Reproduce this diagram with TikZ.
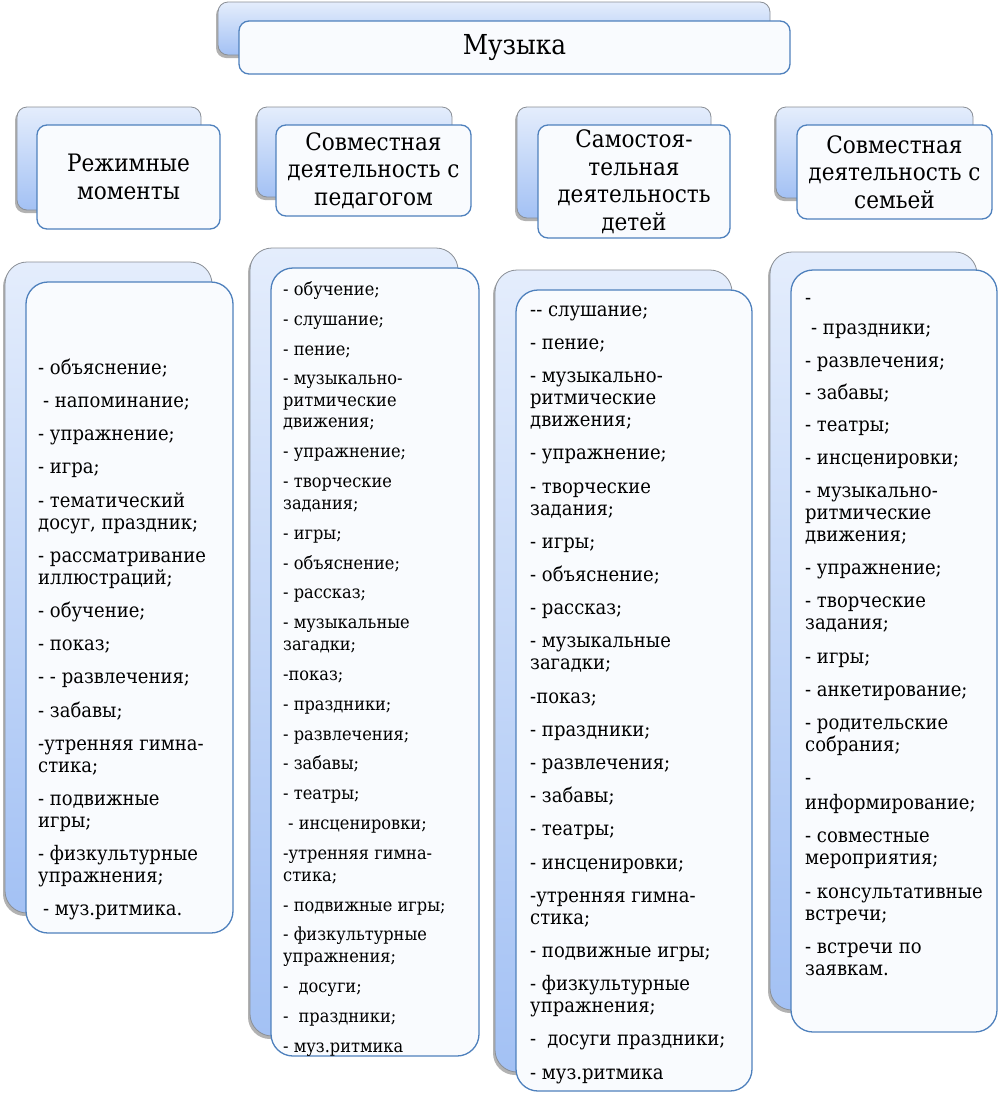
\documentclass[tikz,border=0pt]{standalone}
\usepackage{fontspec}
\setmainfont{DejaVu Serif}[FakeStretch=0.9]
\newfontfamily\lserif{DejaVu Serif}[FakeStretch=0.9]
\usetikzlibrary{shadows}
\definecolor{conncol}{HTML}{41689A}
\definecolor{backtop}{HTML}{E4EDFC}
\definecolor{backbot}{HTML}{A3C1F4}
\definecolor{backline}{HTML}{8A8F96}
\definecolor{frontfill}{HTML}{F9FBFE}
\definecolor{frontline}{HTML}{4F81BD}
\pgfdeclarelayer{bg}
\pgfsetlayers{bg,main}
\begin{document}
\begin{tikzpicture}[x=1pt,y=-1pt,
  backbox/.style={draw=backline, line width=0.8pt, top color=backtop, bottom color=backbot,
    inner sep=0pt, drop shadow={shadow xshift=-2pt, shadow yshift=-3pt, opacity=0.3, fill=black}},
  frontbox/.style={draw=frontline, line width=1.3pt, fill=frontfill, inner sep=0pt},
  hdrbox/.style={rounded corners=10pt},
  lstbox/.style={rounded corners=22pt},
  hdrtext/.style={align=center, font=\lserif\fontsize{24}{27.5}\selectfont},
  titletext/.style={font=\lserif\fontsize{27.5}{30}\selectfont},
  listA/.style={anchor=north west, inner sep=0pt, align=left, font=\lserif\fontsize{20}{22}\selectfont},
  listB/.style={anchor=north west, inner sep=0pt, align=left, font=\lserif\fontsize{18}{21.5}\selectfont},
  conn/.style={draw=conncol, line width=4pt}
]
\useasboundingbox[fill=white] (0,0) rectangle (1000,1093);

% title
\node[backbox, hdrbox, minimum width=552pt, minimum height=53pt] (tb) at (494,28.5) {};
\node[frontbox, hdrbox, minimum width=551pt, minimum height=53pt, titletext] (tf) at (514.5,47.5) {Музыка};

% headers
\node[backbox, hdrbox, minimum width=184pt, minimum height=103pt] (hb1) at (109,158.5) {};
\node[frontbox, hdrbox, minimum width=183pt, minimum height=104pt, hdrtext] (hf1) at (128.5,177) {Режимные\\моменты};
\node[backbox, hdrbox, minimum width=195pt, minimum height=90pt] (hb2) at (354.5,152) {};
\node[frontbox, hdrbox, minimum width=195pt, minimum height=91pt, hdrtext] (hf2) at (373.5,170.5) {Совместная\\деятельность с\\педагогом};
\node[backbox, hdrbox, minimum width=194pt, minimum height=111pt] (hb3) at (614,162.5) {};
\node[frontbox, hdrbox, minimum width=192pt, minimum height=113pt, hdrtext] (hf3) at (634,181.5) {Самостоя-\\тельная\\деятельность\\детей};
\node[backbox, hdrbox, minimum width=197pt, minimum height=91pt] (hb4) at (874.5,152.5) {};
\node[frontbox, hdrbox, minimum width=195pt, minimum height=94pt, hdrtext] (hf4) at (894.5,172) {Совместная\\деятельность с\\семьей};

% list boxes
\node[backbox, lstbox, minimum width=207pt, minimum height=651pt] (lb1) at (108.5,587.5) {};
\node[frontbox, lstbox, minimum width=207pt, minimum height=651pt] (lf1) at (129.5,607.5) {};
\node[backbox, lstbox, minimum width=208pt, minimum height=788pt] (lb2) at (354,642) {};
\node[frontbox, lstbox, minimum width=208pt, minimum height=788pt] (lf2) at (375,662) {};
\node[backbox, lstbox, minimum width=237pt, minimum height=802pt] (lb3) at (613.5,671) {};
\node[frontbox, lstbox, minimum width=236pt, minimum height=801pt] (lf3) at (634,690.5) {};
\node[backbox, lstbox, minimum width=207pt, minimum height=758pt] (lb4) at (873.5,631) {};
\node[frontbox, lstbox, minimum width=206pt, minimum height=762pt] (lf4) at (894,651) {};

% list texts
\node[listA] (t1) at (38,357) {\rule{0pt}{17pt}- объяснение;\\[11.2pt]
\hspace{5pt}- напоминание;\\[11.2pt]
- упражнение;\\[11.2pt]
- игра;\\[11.2pt]
- тематический\\
досуг, праздник;\\[11.2pt]
- рассматривание\\
иллюстраций;\\[11.2pt]
- обучение;\\[11.2pt]
- показ;\\[11.2pt]
- - развлечения;\\[11.2pt]
- забавы;\\[11.2pt]
-утренняя гимна-\\
стика;\\[11.2pt]
- подвижные\\
игры;\\[11.2pt]
- физкультурные\\
упражнения;\\[11.2pt]
\hspace{5pt}- муз.ритмика.};

\node[listB] (t2) at (283,279.5) {\rule{0pt}{15.5pt}- обучение;\\[8.4pt]
- слушание;\\[8.4pt]
- пение;\\[8.4pt]
- музыкально-\\
ритмические\\
движения;\\[8.4pt]
- упражнение;\\[8.4pt]
- творческие\\
задания;\\[8.4pt]
- игры;\\[8.4pt]
- объяснение;\\[8.4pt]
- рассказ;\\[8.4pt]
- музыкальные\\
загадки;\\[8.4pt]
-показ;\\[8.4pt]
- праздники;\\[8.4pt]
- развлечения;\\[8.4pt]
- забавы;\\[8.4pt]
- театры;\\[8.4pt]
\hspace{5pt}- инсценировки;\\[8.4pt]
-утренняя гимна-\\
стика;\\[8.4pt]
- подвижные игры;\\[8.4pt]
- физкультурные\\
упражнения;\\[8.4pt]
-\hspace{10pt}досуги;\\[8.4pt]
-\hspace{10pt}праздники;\\[8.4pt]
- муз.ритмика};

\node[listA] (t3) at (530,299) {\rule{0pt}{17pt}-{}- слушание;\\[11.2pt]
- пение;\\[11.2pt]
- музыкально-\\
ритмические\\
движения;\\[11.2pt]
- упражнение;\\[11.2pt]
- творческие\\
задания;\\[11.2pt]
- игры;\\[11.2pt]
- объяснение;\\[11.2pt]
- рассказ;\\[11.2pt]
- музыкальные\\
загадки;\\[11.2pt]
-показ;\\[11.2pt]
- праздники;\\[11.2pt]
- развлечения;\\[11.2pt]
- забавы;\\[11.2pt]
- театры;\\[11.2pt]
- инсценировки;\\[11.2pt]
-утренняя гимна-\\
стика;\\[11.2pt]
- подвижные игры;\\[11.2pt]
- физкультурные\\
упражнения;\\[11.2pt]
-\hspace{11pt}досуги праздники;\\[11.2pt]
- муз.ритмика};

\node[listA] (t4) at (805,287.5) {\rule{0pt}{17pt}-\\[8pt]
\hspace{6pt}- праздники;\\[10.4pt]
- развлечения;\\[10.4pt]
- забавы;\\[10.4pt]
- театры;\\[10.4pt]
- инсценировки;\\[11.2pt]
- музыкально-\\
ритмические\\
движения;\\[11.2pt]
- упражнение;\\[11.2pt]
- творческие\\
задания;\\[11.2pt]
- игры;\\[11.2pt]
- анкетирование;\\[11.2pt]
- родительские\\
собрания;\\[11.2pt]
-\\[3pt]
информирование;\\[11.2pt]
- совместные\\
мероприятия;\\[11.2pt]
- консультативные\\
встречи;\\[11.2pt]
- встречи по\\
заявкам.};

% connectors
\coordinate (bar) at (494,90);
\begin{pgfonlayer}{bg}
\draw[conn] (tb.south) -- (tb.south |- bar);
\draw[conn, line cap=rect] (hb1.north |- bar) -- (hb4.north |- bar);
\draw[conn] (hb1.north |- bar) -- (hb1.north);
\draw[conn] (hb2.north |- bar) -- (hb2.north);
\draw[conn] (hb3.north |- bar) -- (hb3.north);
\draw[conn] (hb4.north |- bar) -- (hb4.north);
\draw[conn] (lb1.north |- hb1.south) -- (lb1.north);
\draw[conn] (lb2.north |- hb2.south) -- (lb2.north);
\draw[conn] (lb3.north |- hb3.south) -- (lb3.north);
\draw[conn] (lb4.north |- hb4.south) -- (lb4.north);
\end{pgfonlayer}
\end{tikzpicture}
\end{document}
